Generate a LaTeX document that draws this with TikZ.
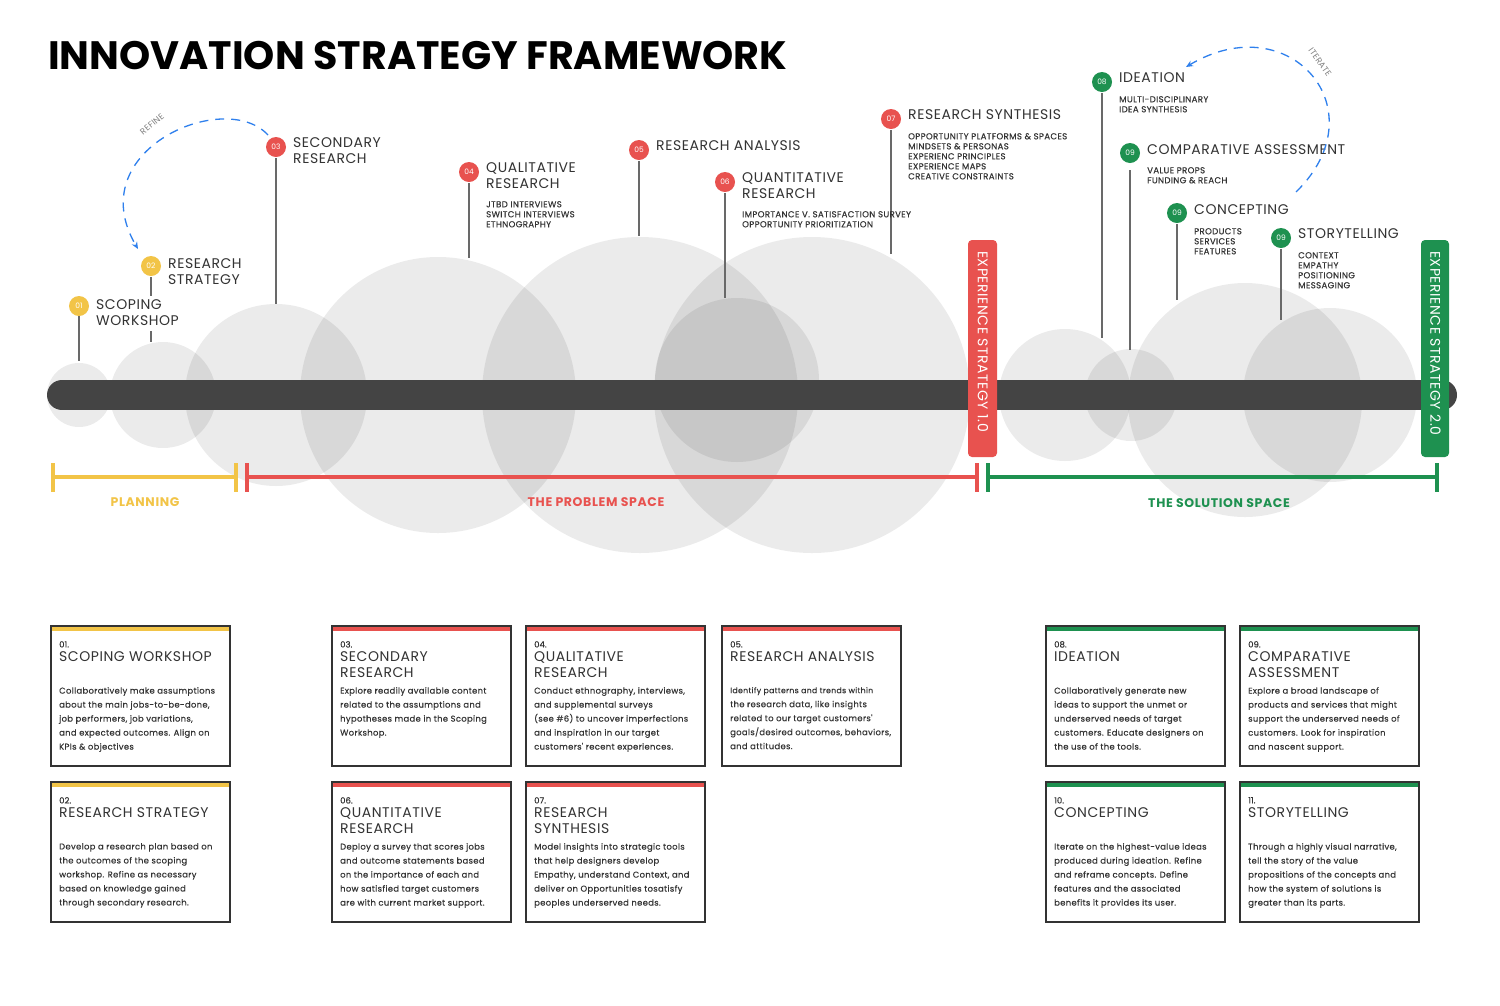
\documentclass[tikz,border=0pt]{standalone}
\usepackage{fontspec}
\usepackage{graphicx}
\setmainfont{Poppins}
\newfontfamily\medf{Poppins}[FakeBold=0.35]
\newfontfamily\wide{Poppins}[LetterSpace=4]
\newfontfamily\widem{Poppins}[LetterSpace=4,FakeBold=0.3]
\usetikzlibrary{arrows.meta}
\definecolor{cy}{HTML}{F2C447}
\definecolor{cr}{HTML}{E8524F}
\definecolor{cg}{HTML}{1E9150}
\definecolor{bar}{HTML}{444444}
\definecolor{tx}{HTML}{333333}
\definecolor{arc}{HTML}{2F80ED}
\tikzset{
  bub/.style={fill=black,fill opacity=0.08,draw=none},
  num/.style={circle,fill=#1,text=white,minimum size=20pt,inner sep=0pt,font=\fontsize{7.5}{7.5}\selectfont},
  lbl/.style={anchor=north west,inner sep=0pt,align=left,text=tx,font=\wide\fontsize{14}{16}\selectfont},
  sub/.style={anchor=north west,inner sep=0pt,align=left,text=tx,font=\widem\fontsize{8.6}{10}\selectfont},
  stem/.style={draw=bar!80,line width=1.3pt},
  phase/.style={line width=4pt,draw=#1},
  phlbl/.style={font=\bfseries\addfontfeature{LetterSpace=5}\fontsize{12.5}{12}\selectfont,text=#1},
  cardbox/.style={draw=tx,line width=1.6pt,fill=white},
  cnum/.style={anchor=north west,inner sep=0pt,text=tx,font=\medf\fontsize{8.5}{9}\selectfont},
  ctitle/.style={anchor=north west,inner sep=0pt,align=left,text=tx,font=\wide\fontsize{14}{16}\selectfont},
  cbody/.style={anchor=north west,inner sep=0pt,align=left,text=tx,font=\widem\fontsize{8.4}{14}\selectfont},
  dasharc/.style={draw=arc,line width=1.3pt,dash pattern=on 9pt off 7pt,-{Stealth[length=7pt,width=6pt]}},
  arcl/.style={text=gray,font=\wide\fontsize{8.5}{9}\selectfont,inner sep=0pt},
  exp/.style={rounded corners=4pt,fill=#1,draw=none},
  explbl/.style={rotate=-90,text=white,font=\wide\fontsize{14}{14}\selectfont,inner sep=0pt}
}
\newcommand\mycard[7]{% name, x, y, color, num, title, body
  \draw[cardbox] (#2,#3) rectangle ++(179,140);
  \fill[#4] (#2+1,#3+1) rectangle (#2+178,#3+5);
  \draw[tx,line width=1.6pt] (#2,#3) rectangle ++(179,140);
  \node[cnum] (#1n) at (#2+8,#3+15) {#5};
  \node[ctitle] (#1t) at (#2+8,#3+25) {#6};
  \node[cbody] (#1b) at (#2+8,#3+61) {#7};
}
\begin{document}
\begin{tikzpicture}[x=1pt,y=-1pt]
\useasboundingbox (0,0) rectangle (1500,1005);
\fill[white] (0,0) rectangle (1500,1005);
% title
\node[anchor=west,inner sep=0pt,text=black] (title) at (48,56) {\resizebox{739pt}{!}{\bfseries INNOVATION STRATEGY FRAMEWORK}};
% bubbles
\fill[bub] (79,395) circle (32);
\fill[bub] (163,395) circle (53);
\fill[bub] (276,395) circle (91);
\fill[bub] (438,395) circle (138);
\fill[bub] (640,395) circle (158);
\fill[bub] (812,395) circle (158);
\fill[bub] (737,380) circle (82);
\fill[bub] (1065,395) circle (66);
\fill[bub] (1131,395) circle (46);
\fill[bub] (1245,400) circle (117);
\fill[bub] (1330,395) circle (87);
% bar
\draw[bar,line width=30pt,line cap=round] (62,395) -- (1442,395);
% phases
\draw[phase=cy] (53,477) -- (236,477); \draw[phase=cy] (53,463) -- (53,492); \draw[phase=cy] (236,463) -- (236,492);
\draw[phase=cr] (247,477) -- (977,477); \draw[phase=cr] (247,463) -- (247,492); \draw[phase=cr] (977,463) -- (977,492);
\draw[phase=cg] (988,477) -- (1437,477); \draw[phase=cg] (988,463) -- (988,492); \draw[phase=cg] (1437,463) -- (1437,492);
\node[phlbl=cy] (p1) at (145,502) {PLANNING};
\node[phlbl=cr] (p2) at (596,502) {THE PROBLEM SPACE};
\node[phlbl=cg] (p3) at (1219,503) {THE SOLUTION SPACE};
% experience strategy
\fill[exp=cr] (968,240) rectangle (997,457);
\node[explbl,anchor=west] (e1) at (983,251) {EXPERIENCE STRATEGY 1.0};
\fill[exp=cg] (1421,240) rectangle (1449,457);
\node[explbl,anchor=west] (e2) at (1435.5,251) {EXPERIENCE STRATEGY 2.0};
% stems
\draw[stem] (79,316) -- (79,361);
\draw[stem] (151,277) -- (151,296); \draw[stem] (151,331) -- (151,342);
\draw[stem] (276,158) -- (276,304);
\draw[stem] (469,183) -- (469,258);
\draw[stem] (639,161) -- (639,236);
\draw[stem] (725,193) -- (725,298);
\draw[stem] (891,130) -- (891,254);
\draw[stem] (1102,93) -- (1102,338);
\draw[stem] (1130,170) -- (1130,350);
\draw[stem] (1177,224) -- (1177,300);
\draw[stem] (1281,249) -- (1281,320);
% markers and labels
\node[num=cy] (n1) at (79,306) {01};
\node[lbl] (l1) at (96,299) {SCOPING\\WORKSHOP};
\node[num=cy] (n2) at (151,266) {02};
\node[lbl] (l2) at (168,258) {RESEARCH\\STRATEGY};
\node[num=cr] (n3) at (276,147) {03};
\node[lbl] (l3) at (293,137) {SECONDARY\\RESEARCH};
\node[num=cr] (n4) at (469,172) {04};
\node[lbl] (l4) at (486,162) {QUALITATIVE\\RESEARCH};
\node[sub] (s4) at (486,201) {JTBD INTERVIEWS\\SWITCH INTERVIEWS\\ETHNOGRAPHY};
\node[num=cr] (n5) at (639,150) {05};
\node[lbl] (l5) at (656,140) {RESEARCH ANALYSIS};
\node[num=cr] (n6) at (725,182) {06};
\node[lbl] (l6) at (742,172) {QUANTITATIVE\\RESEARCH};
\node[sub] (s6) at (742,211) {IMPORTANCE V. SATISFACTION SURVEY\\OPPORTUNITY PRIORITIZATION};
\node[num=cr] (n7) at (891,119) {07};
\node[lbl] (l7) at (908,109) {RESEARCH SYNTHESIS};
\node[sub] (s7) at (908,133) {OPPORTUNITY PLATFORMS \& SPACES\\MINDSETS \& PERSONAS\\EXPERIENC PRINCIPLES\\EXPERIENCE MAPS\\CREATIVE CONSTRAINTS};
\node[num=cg] (n8) at (1102,82) {08};
\node[lbl] (l8) at (1119,72) {IDEATION};
\node[sub] (s8) at (1119,96) {MULTI-DISCIPLINARY\\IDEA SYNTHESIS};
\node[num=cg] (n9) at (1130,153) {09};
\node[lbl] (l9) at (1147,144) {COMPARATIVE ASSESSMENT};
\node[sub] (s9) at (1147,167) {VALUE PROPS\\FUNDING \& REACH};
\node[num=cg] (n10) at (1177,213) {09};
\node[lbl] (l10) at (1194,204) {CONCEPTING};
\node[sub] (s10) at (1194,228) {PRODUCTS\\SERVICES\\FEATURES};
\node[num=cg] (n11) at (1281,238) {09};
\node[lbl] (l11) at (1298,228) {STORYTELLING};
\node[sub] (s11) at (1298,252) {CONTEXT\\EMPATHY\\POSITIONING\\MESSAGING};
% arcs
\coordinate (r0) at (268,135); \coordinate (r1) at (138,249);
\draw[dasharc] (r0) .. controls (225,88) and (80,150) .. (r1);
\node[arcl,rotate=40] (rl) at (152,124) {REFINE};
\coordinate (i0) at (1296,192); \coordinate (i1) at (1186,67);
\draw[dasharc] (i0) .. controls (1380,110) and (1290,5) .. (i1);
\node[arcl,rotate=-55] (il) at (1320,62) {ITERATE};
% cards
\mycard{c1}{51}{626}{cy}{01.}{SCOPING WORKSHOP}{Collaboratively make assumptions\\about the main jobs-to-be-done,\\job performers, job variations,\\and expected outcomes. Align on\\KPIs \& objectives}
\mycard{c3}{332}{626}{cr}{03.}{SECONDARY\\RESEARCH}{Explore readily available content\\related to the assumptions and\\hypotheses made in the Scoping\\Workshop.}
\mycard{c4}{526}{626}{cr}{04.}{QUALITATIVE\\RESEARCH}{Conduct ethnography, interviews,\\and supplemental surveys\\(see \#6) to uncover imperfections\\and inspiration in our target\\customers' recent experiences.}
\mycard{c5}{722}{626}{cr}{05.}{RESEARCH ANALYSIS}{\fontsize{7.8}{14}\selectfont Identify patterns and trends within\\the research data, like insights\\related to our target customers'\\goals/desired outcomes, behaviors,\\and attitudes.}
\mycard{c8}{1046}{626}{cg}{08.}{IDEATION}{Collaboratively generate new\\ideas to support the unmet or\\underserved needs of target\\customers. Educate designers on\\the use of the tools.}
\mycard{c9}{1240}{626}{cg}{09.}{COMPARATIVE\\ASSESSMENT}{Explore a broad landscape of\\products and services that might\\support the underserved needs of\\customers. Look for inspiration\\and nascent support.}
\mycard{c2}{51}{782}{cy}{02.}{RESEARCH STRATEGY}{Develop a research plan based on\\the outcomes of the scoping\\workshop. Refine as necessary\\based on knowledge gained\\through secondary research.}
\mycard{c6}{332}{782}{cr}{06.}{QUANTITATIVE\\RESEARCH}{Deploy a survey that scores jobs\\and outcome statements based\\on the importance of each and\\how satisfied target customers\\are with current market support.}
\mycard{c7}{526}{782}{cr}{07.}{RESEARCH\\SYNTHESIS}{Model insights into strategic tools\\that help designers develop\\Empathy, understand Context, and\\deliver on Opportunities tosatisfy\\peoples underserved needs.}
\mycard{c10}{1046}{782}{cg}{10.}{CONCEPTING}{Iterate on the highest-value ideas\\produced during ideation. Refine\\and reframe concepts. Define\\features and the associated\\benefits it provides its user.}
\mycard{c11}{1240}{782}{cg}{11.}{STORYTELLING}{Through a highly visual narrative,\\tell the story of the value\\propositions of the concepts and\\how the system of solutions is\\greater than its parts.}
\end{tikzpicture}
\end{document}
